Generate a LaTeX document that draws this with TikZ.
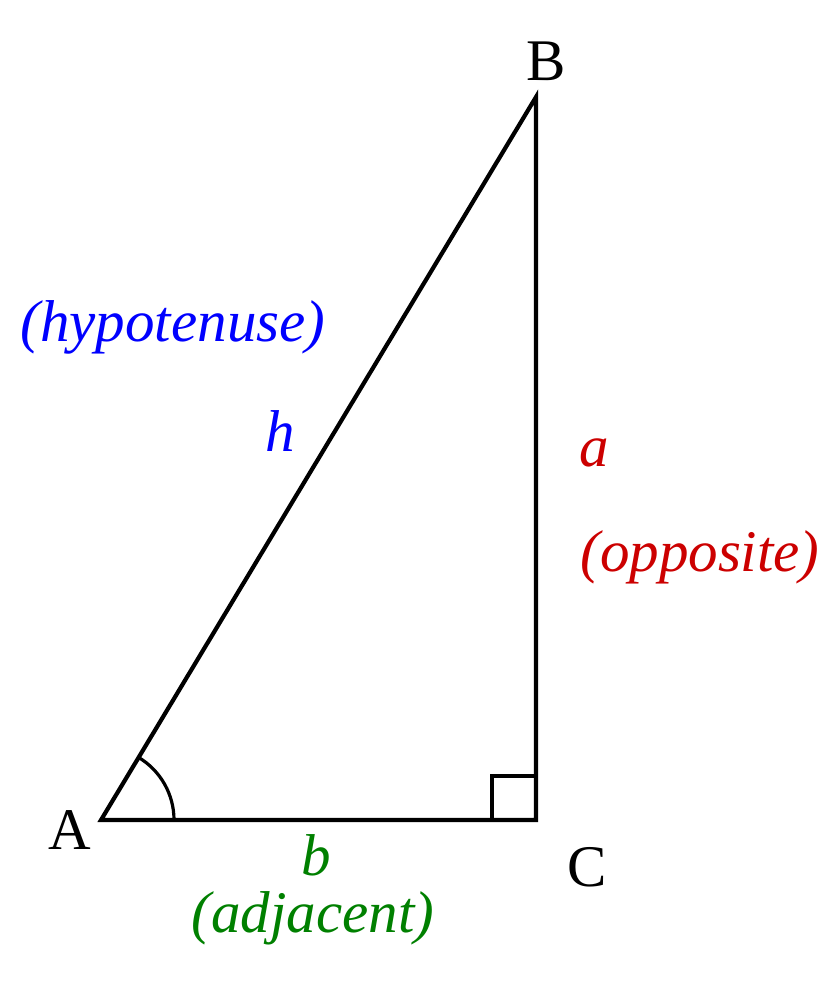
\documentclass[tikz,border=0pt]{standalone}
\usepackage{fontspec}
\setmainfont{Liberation Serif}
\definecolor{hypblue}{RGB}{0,0,255}
\definecolor{oppred}{RGB}{204,0,0}
\definecolor{adjgreen}{RGB}{0,128,0}

\begin{document}
\begin{tikzpicture}[x=0.5pt,y=0.5pt]
\tikzstyle{every node}+=[inner sep=0pt]
\tikzstyle{side}=[black, line width=2.1pt]
\tikzstyle{anglemark}=[black, line width=1.6pt]
\tikzstyle{vertex}=[font=\fontsize{29.5}{34}\selectfont]
\tikzstyle{sidelabel}=[font=\fontsize{29.5}{34}\selectfont\itshape]
\fill [white] (0,0) rectangle (840,-992);
\useasboundingbox (0,0) rectangle (840,-992);
\coordinate (A) at (101,-820);
\coordinate (B) at (536,-97);
\coordinate (C) at (536,-820);
\draw [side] (A) -- (B) -- (C) -- cycle;
\draw [anglemark] (492,-820) |- (536,-776);
\draw [anglemark] (174,-820) arc (0:58.96:73);
\node [vertex] (labA) at (70,-830) {A};
\node [vertex] (labB) at (546,-61) {B};
\node [vertex] (labC) at (587,-867) {C};
\node [sidelabel, hypblue] (h) at (280,-431) {h};
\node [sidelabel, hypblue] (hyp) at (173,-327) {(hypotenuse)};
\node [sidelabel, oppred] (a) at (594,-453) {a};
\node [sidelabel, oppred] (opp) at (700,-557) {(opposite)};
\node [sidelabel, adjgreen] (b) at (316,-855) {b};
\node [sidelabel, adjgreen] (adj) at (313,-918) {(adjacent)};
\end{tikzpicture}
\end{document}
